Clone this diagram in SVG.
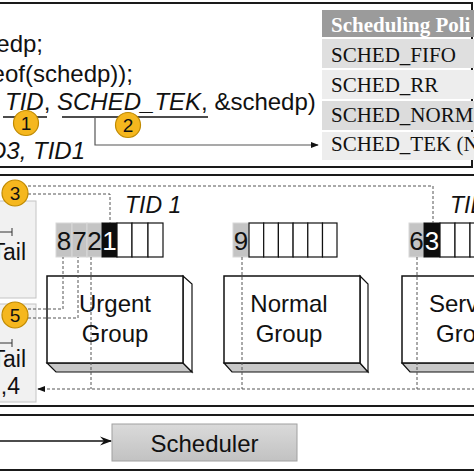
<svg xmlns="http://www.w3.org/2000/svg" width="474" height="474" viewBox="0 0 474 474">
<defs>
<style>
.panel{fill:#fff;stroke:#1a1a1a;stroke-width:2}
.code{font-family:"Liberation Sans",Arial,sans-serif;font-size:24px;fill:#111}
.it{font-style:italic}
.th{font-family:"Liberation Serif","Times New Roman",serif;font-size:21px;font-weight:bold;fill:#fff}
.td{font-family:"Liberation Serif","Times New Roman",serif;font-size:21px;fill:#111}
.badge circle{fill:#F5B71E;stroke:#C08A00;stroke-width:1.2}
.badge text{font-family:"Liberation Sans",Arial,sans-serif;font-size:19px;fill:#111;text-anchor:middle}
.dash{fill:none;stroke:#555;stroke-width:1;stroke-dasharray:3 2}
.solid{fill:none;stroke:#555;stroke-width:1.2}
.cellw{fill:#fff;stroke:#111;stroke-width:1.2}
.cellg{fill:#c4c4c4;stroke:#d8d8d8;stroke-width:1}
.cellb{fill:#0d0d0d;stroke:#111;stroke-width:1}
.num{font-family:"Liberation Sans",Arial,sans-serif;font-size:26px;fill:#111;text-anchor:middle}
.numw{font-family:"Liberation Sans",Arial,sans-serif;font-size:26px;fill:#fff;text-anchor:middle}
.lbl{font-family:"Liberation Sans",Arial,sans-serif;font-size:24px;fill:#111;text-anchor:middle}
.tid{font-family:"Liberation Sans",Arial,sans-serif;font-size:23px;font-style:italic;fill:#111}
.front{fill:#fff;stroke:#111;stroke-width:1.5}
.side{fill:#fff;stroke:#111;stroke-width:1.2}
.bottom{fill:#c8c8c8;stroke:#111;stroke-width:1.2}
.lpanel{fill:#f1f1f1;stroke:#c4c4c4;stroke-width:1}
</style>
<marker id="ah" viewBox="0 0 10 10" refX="9" refY="5" markerWidth="8" markerHeight="8" orient="auto" markerUnits="userSpaceOnUse">
<path d="M0,1 L10,5 L0,9 z" fill="#111"/>
</marker>
<marker id="ah2" viewBox="0 0 12 10" refX="11" refY="5" markerWidth="12" markerHeight="10" orient="auto" markerUnits="userSpaceOnUse">
<path d="M0,0.5 L12,5 L0,9.5 L4,5 z" fill="#111"/>
</marker>
<linearGradient id="sg" x1="0" y1="0" x2="0" y2="1">
<stop offset="0" stop-color="#dadada"/>
<stop offset="1" stop-color="#c2c2c2"/>
</linearGradient>
</defs>

<!-- panels -->
<rect class="panel" x="-5" y="3" width="477" height="164"/>
<rect class="panel" x="-5" y="175" width="485" height="231"/>
<rect class="panel" x="-5" y="415" width="485" height="55"/>

<!-- code -->
<g id="code">
<text class="code" x="43" y="52" text-anchor="end">edp;</text>
<text class="code" x="133" y="82" text-anchor="end">eof(schedp));</text>
<text class="code" x="5" y="110"><tspan class="it">TID</tspan>, <tspan class="it">SCHED_TEK</tspan>, &amp;schedp)</text>
<text class="code it" x="85" y="159" text-anchor="end">D3, TID1</text>
<line x1="3" y1="117" x2="47" y2="117" stroke="#111" stroke-width="1.5"/>
<line x1="62" y1="117" x2="208" y2="117" stroke="#111" stroke-width="1.5"/>
</g>

<!-- policy table -->
<g id="policy-table">
<rect x="322" y="10" width="160" height="27" fill="#9b9b9b"/>
<text class="th" x="331" y="32">Scheduling Poli</text>
<rect x="322" y="39" width="160" height="29" fill="#dfdfdf"/>
<text class="td" x="331" y="62">SCHED_FIFO</text>
<rect x="322" y="70" width="160" height="29" fill="#ededed"/>
<text class="td" x="331" y="92">SCHED_RR</text>
<rect x="322" y="101" width="160" height="29" fill="#dcdcdc"/>
<text class="td" x="331" y="122">SCHED_NORM</text>
<rect x="322" y="132" width="160" height="28" fill="#ededed"/>
<text class="td" x="331" y="151">SCHED_TEK (N</text>
</g>

<!-- left panels -->
<g id="tail-upper">
<rect class="lpanel" x="-10" y="201" width="46" height="97"/>
<path d="M0,232 H12 M12,228 V236" stroke="#333" stroke-width="1" fill="none"/>
<text class="code" x="26" y="260" text-anchor="end" style="font-size:23px">Tail</text>
</g>
<g id="tail-lower">
<rect class="lpanel" x="-10" y="304" width="46" height="98"/>
<path d="M0,343 H12 M12,339 V347" stroke="#333" stroke-width="1" fill="none"/>
<text class="code" x="26" y="367" text-anchor="end" style="font-size:23px">Tail</text>
<text class="code" x="20" y="394" text-anchor="end" style="font-size:23px">,4</text>
</g>

<!-- queues -->
<g id="queue-urgent">
<rect class="cellg" x="56" y="223" width="16" height="34"/>
<rect class="cellg" x="72" y="223" width="15" height="34"/>
<rect class="cellg" x="87" y="223" width="15" height="34"/>
<rect class="cellb" x="102" y="223" width="15" height="34"/>
<rect class="cellw" x="117" y="223" width="15" height="34"/>
<rect class="cellw" x="132" y="223" width="16" height="34"/>
<rect class="cellw" x="148" y="223" width="15" height="34"/>
<text class="num" x="64" y="250">8</text>
<text class="num" x="79.5" y="250">7</text>
<text class="num" x="94.5" y="250">2</text>
<text class="numw" x="109.5" y="250">1</text>
<text class="tid" x="125" y="213">TID 1</text>
</g>
<g id="queue-normal">
<rect class="cellg" x="233" y="223" width="16" height="34"/>
<rect class="cellw" x="249" y="223" width="14.7" height="34"/>
<rect class="cellw" x="263.7" y="223" width="14.7" height="34"/>
<rect class="cellw" x="278.4" y="223" width="14.7" height="34"/>
<rect class="cellw" x="293.1" y="223" width="14.7" height="34"/>
<rect class="cellw" x="307.8" y="223" width="14.7" height="34"/>
<rect class="cellw" x="322.5" y="223" width="14.5" height="34"/>
<text class="num" x="241" y="250">9</text>
</g>
<g id="queue-service">
<rect class="cellg" x="409" y="223" width="15" height="34"/>
<rect class="cellb" x="424" y="223" width="16" height="34"/>
<rect class="cellw" x="440" y="223" width="15" height="34"/>
<rect class="cellw" x="455" y="223" width="15" height="34"/>
<rect class="cellw" x="470" y="223" width="15" height="34"/>
<text class="num" x="416.5" y="250">6</text>
<text class="numw" x="432" y="250">3</text>
<text class="tid" x="450" y="213">TID</text>
</g>

<!-- groups -->
<g id="urgent-group">
<polygon class="bottom" points="47,363 183,363 192,372 56,372"/>
<polygon class="side" points="183,276 192,284 192,372 183,363"/>
<rect class="front" x="47" y="276" width="136" height="87"/>
<text class="lbl" x="115" y="312">Urgent</text>
<text class="lbl" x="115" y="342">Group</text>
</g>
<g id="normal-group">
<polygon class="bottom" points="224,363 360,363 368,372 232,372"/>
<polygon class="side" points="360,276 368,284 368,372 360,363"/>
<rect class="front" x="224" y="276" width="136" height="87"/>
<text class="lbl" x="289" y="312">Normal</text>
<text class="lbl" x="289" y="342">Group</text>
</g>
<g id="service-group">
<polygon class="bottom" points="402,363 490,363 498,372 410,372"/>
<rect class="front" x="402" y="276" width="90" height="87"/>
<text class="lbl" x="429" y="312" text-anchor="start" style="text-anchor:start">Serv</text>
<text class="lbl" x="436" y="342" style="text-anchor:start">Gro</text>
</g>

<!-- scheduler -->
<g id="scheduler">
<rect x="112" y="424" width="185" height="37" fill="url(#sg)" stroke="#a0a0a0" stroke-width="1"/>
<text class="lbl" x="204.5" y="452">Scheduler</text>
</g>

<!-- connectors -->
<g id="connectors">
<polyline class="solid" points="95,117 95,145 318,145" marker-end="url(#ah)"/>
<polyline class="dash" points="28,186 433,186 433,223"/>
<polyline class="dash" points="28,194 110,194 110,223"/>
<polyline class="dash" points="28,309 63,309 63,257"/>
<polyline class="dash" points="28,318 78,318 78,257"/>
<line class="dash" x1="91" y1="257" x2="91" y2="389"/>
<line class="dash" x1="242" y1="257" x2="242" y2="389"/>
<line class="dash" x1="417" y1="257" x2="417" y2="389"/>
<line class="dash" x1="480" y1="389" x2="42" y2="389"/>
<line x1="44" y1="389" x2="38" y2="389" stroke="#111" stroke-width="1" marker-end="url(#ah)"/>
<line x1="-5" y1="441" x2="111" y2="441" stroke="#111" stroke-width="1.5" marker-end="url(#ah2)"/>
</g>

<!-- badges -->
<g id="badge-1" class="badge"><circle cx="26" cy="123" r="12.5"/><text x="26" y="130">1</text></g>
<g id="badge-2" class="badge"><circle cx="128" cy="125" r="12.5"/><text x="128" y="132">2</text></g>
<g id="badge-3" class="badge"><circle cx="15" cy="193" r="13"/><text x="15" y="200">3</text></g>
<g id="badge-5" class="badge"><circle cx="15" cy="315" r="13"/><text x="15" y="322">5</text></g>
</svg>
